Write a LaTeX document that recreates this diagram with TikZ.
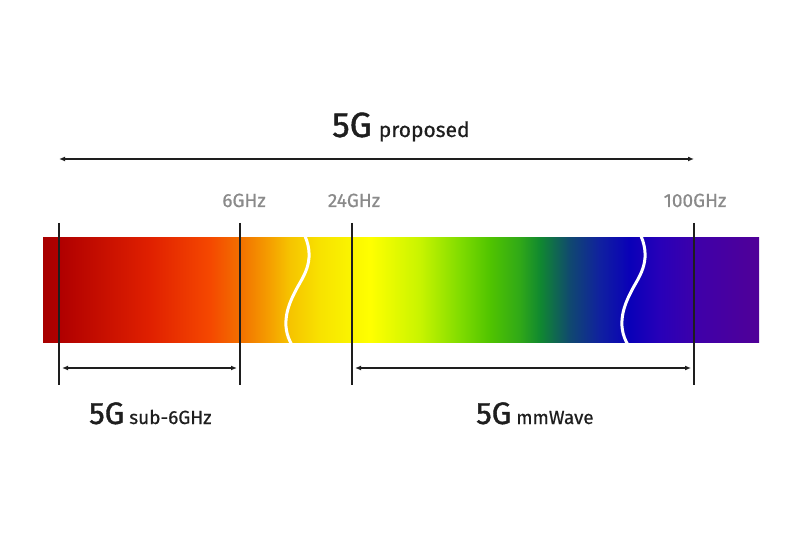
\documentclass[tikz,border=0pt]{standalone}
\usepackage{fontspec}
\setmainfont{Fira Sans}
\newfontfamily\heavyfont{Fira Sans}[FakeBold=1.2]
\newfontfamily\midfont{Fira Sans}[FakeBold=0.6]
\usetikzlibrary{arrows.meta}

\definecolor{inkdark}{HTML}{1E1E1E}
\definecolor{labelgray}{HTML}{8A8A8A}
%% spectrum colours, left to right
\definecolor{bandA}{HTML}{A80000}
\definecolor{bandB}{HTML}{B00000}
\definecolor{bandC}{HTML}{E02000}
\definecolor{bandD}{HTML}{F54800}
\definecolor{bandE}{HTML}{F27000}
\definecolor{bandF}{HTML}{F5A000}
\definecolor{bandG}{HTML}{F6C400}
\definecolor{bandH}{HTML}{F8E200}
\definecolor{bandI}{HTML}{FAF400}
\definecolor{bandJ}{HTML}{FFFF00}
\definecolor{bandK}{HTML}{C8F400}
\definecolor{bandL}{HTML}{80DC00}
\definecolor{bandM}{HTML}{50C400}
\definecolor{bandN}{HTML}{30A818}
\definecolor{bandO}{HTML}{108830}
\definecolor{bandP}{HTML}{104870}
\definecolor{bandQ}{HTML}{1020A0}
\definecolor{bandR}{HTML}{0A00B8}
\definecolor{bandS}{HTML}{2800B8}
\definecolor{bandT}{HTML}{4000A8}
\definecolor{bandU}{HTML}{500098}

\pgfdeclarehorizontalshading{spectrum}{100bp}{color(0bp)=(bandA); color(25bp)=(bandA);
  color(26.19bp)=(bandB); color(32.47bp)=(bandC); color(36.66bp)=(bandD);
  color(38.76bp)=(bandE); color(40.85bp)=(bandF); color(42.25bp)=(bandG);
  color(44.34bp)=(bandH); color(46.44bp)=(bandI); color(47.83bp)=(bandJ);
  color(51.33bp)=(bandK); color(54.12bp)=(bandL); color(56.21bp)=(bandM);
  color(58.31bp)=(bandN); color(59.71bp)=(bandO); color(61.80bp)=(bandP);
  color(63.90bp)=(bandQ); color(65.99bp)=(bandR); color(68.08bp)=(bandS);
  color(70.88bp)=(bandT); color(75bp)=(bandU); color(100bp)=(bandU)}

\tikzset{
  bandline/.style={draw=inkdark, line width=1.4pt},
  rangearrow/.style={draw=inkdark, line width=1.4pt,
    {Latex[length=6pt,width=5pt]}-{Latex[length=6pt,width=5pt]}},
  freq/.style={text=labelgray, anchor=base, inner sep=0pt,
    font=\midfont\fontsize{19}{19}\selectfont},
  bandname/.style={text=inkdark, anchor=base west, inner sep=0pt},
  wavecut/.style={draw=white, line width=3pt},
}

\begin{document}
\begin{tikzpicture}[x=1pt,y=-1pt]
    \useasboundingbox (0,0) rectangle (800,534);
    %% title and whole span
    \node[bandname] (title) at (332,137)
      {\heavyfont\fontsize{35}{35}\selectfont 5G\hspace{7pt}\midfont\fontsize{21}{21}\selectfont proposed};
    \coordinate (allL) at (59,159);
    \coordinate (allR) at (694,159);
    \draw[rangearrow] (allL) -- (allR);
    %% frequency labels
    \node[freq] (f6) at (244,207) {6GHz};
    \node[freq] (f24) at (354,207) {24GHz};
    \node[freq] (f100) at (695,207) {100GHz};
    %% spectrum bar
    \shade[shading=spectrum] (43,238) rectangle (759,343);
    %% breaks in the bar
    \foreach \dx in {0,336}
      \draw[wavecut] (305+\dx,236) .. controls (316+\dx,262) and (302+\dx,278) .. (296+\dx,290)
        .. controls (288+\dx,305) and (280+\dx,325) .. (292+\dx,345);
    %% band edges
    \foreach \nm/\xx in {e0/59,e6/240,e24/352,e100/694} {
      \coordinate (\nm top) at (\xx,223);
      \coordinate (\nm bot) at (\xx,385);
      \draw[bandline] (\nm top) -- (\nm bot);
    }
    %% sub-6GHz
    \coordinate (subL) at (62,368);
    \coordinate (subR) at (237,368);
    \draw[rangearrow] (subL) -- (subR);
    \node[bandname] (sub) at (89,424)
      {\heavyfont\fontsize{31}{31}\selectfont 5G\hspace{5pt}\midfont\fontsize{19}{19}\selectfont sub-6GHz};
    %% mmWave
    \coordinate (mmL) at (355,368);
    \coordinate (mmR) at (691,368);
    \draw[rangearrow] (mmL) -- (mmR);
    \node[bandname] (mm) at (476,424)
      {\heavyfont\fontsize{31}{31}\selectfont 5G\hspace{5pt}\midfont\fontsize{19}{19}\selectfont mmWave};
\end{tikzpicture}
\end{document}
